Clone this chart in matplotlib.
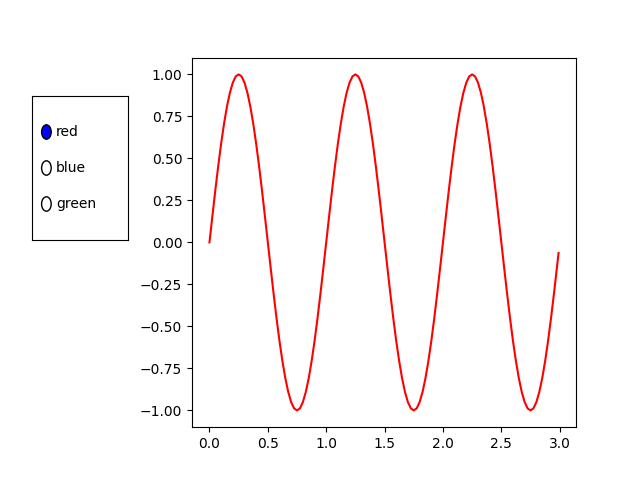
import matplotlib
matplotlib.use("Agg")
import matplotlib.pyplot as plt
from matplotlib.patches import Circle

# ---------- data ----------
t = [0.000, 0.025, 0.050, 0.075, 0.100, 0.125, 0.150, 0.175, 0.200, 0.225,
     0.250, 0.275, 0.300, 0.325, 0.350, 0.375, 0.400, 0.425, 0.450, 0.475,
     0.500, 0.525, 0.550, 0.575, 0.600, 0.625, 0.650, 0.675, 0.700, 0.725,
     0.750, 0.775, 0.800, 0.825, 0.850, 0.875, 0.900, 0.925, 0.950, 0.975,
     1.000, 1.025, 1.050, 1.075, 1.100, 1.125, 1.150, 1.175, 1.200, 1.225,
     1.250, 1.275, 1.300, 1.325, 1.350, 1.375, 1.400, 1.425, 1.450, 1.475,
     1.500, 1.525, 1.550, 1.575, 1.600, 1.625, 1.650, 1.675, 1.700, 1.725,
     1.750, 1.775, 1.800, 1.825, 1.850, 1.875, 1.900, 1.925, 1.950, 1.975,
     2.000, 2.025, 2.050, 2.075, 2.100, 2.125, 2.150, 2.175, 2.200, 2.225,
     2.250, 2.275, 2.300, 2.325, 2.350, 2.375, 2.400, 2.425, 2.450, 2.475,
     2.500, 2.525, 2.550, 2.575, 2.600, 2.625, 2.650, 2.675, 2.700, 2.725,
     2.750, 2.775, 2.800, 2.825, 2.850, 2.875, 2.900, 2.925, 2.950, 2.975,
     2.990]

s = [0.000, 0.156, 0.309, 0.454, 0.588, 0.707, 0.809, 0.891, 0.951, 0.988,
     1.000, 0.988, 0.951, 0.891, 0.809, 0.707, 0.588, 0.454, 0.309, 0.156,
     0.000, -0.156, -0.309, -0.454, -0.588, -0.707, -0.809, -0.891, -0.951, -0.988,
     -1.000, -0.988, -0.951, -0.891, -0.809, -0.707, -0.588, -0.454, -0.309, -0.156,
     0.000, 0.156, 0.309, 0.454, 0.588, 0.707, 0.809, 0.891, 0.951, 0.988,
     1.000, 0.988, 0.951, 0.891, 0.809, 0.707, 0.588, 0.454, 0.309, 0.156,
     0.000, -0.156, -0.309, -0.454, -0.588, -0.707, -0.809, -0.891, -0.951, -0.988,
     -1.000, -0.988, -0.951, -0.891, -0.809, -0.707, -0.588, -0.454, -0.309, -0.156,
     0.000, 0.156, 0.309, 0.454, 0.588, 0.707, 0.809, 0.891, 0.951, 0.988,
     1.000, 0.988, 0.951, 0.891, 0.809, 0.707, 0.588, 0.454, 0.309, 0.156,
     0.000, -0.156, -0.309, -0.454, -0.588, -0.707, -0.809, -0.891, -0.951, -0.988,
     -1.000, -0.988, -0.951, -0.891, -0.809, -0.707, -0.588, -0.454, -0.309, -0.156,
     -0.063]

options = ["red", "blue", "green"]
active = 0

# ---------- plot ----------
fig, ax = plt.subplots(figsize=(6.4, 4.8), dpi=100)
plt.subplots_adjust(left=0.3)
ax.plot(t, s, lw=1.5, color=options[active])

# radio-button panel, drawn by hand so the circles stretch with the axes
rax = fig.add_axes([0.05, 0.5, 0.15, 0.3])
rax.set_xticks([])
rax.set_yticks([])
rax.set_xlim(0, 1)
rax.set_ylim(0, 1)
dy = 1.0 / (len(options) + 1)
for i, name in enumerate(options):
    y = 1 - dy * (i + 1)
    face = "blue" if i == active else "white"
    rax.add_patch(Circle((0.15, y), 0.05, facecolor=face, edgecolor="black", lw=1))
    rax.text(0.25, y, name, ha="left", va="center", fontsize=10)

fig.savefig("out.png", dpi=100)
